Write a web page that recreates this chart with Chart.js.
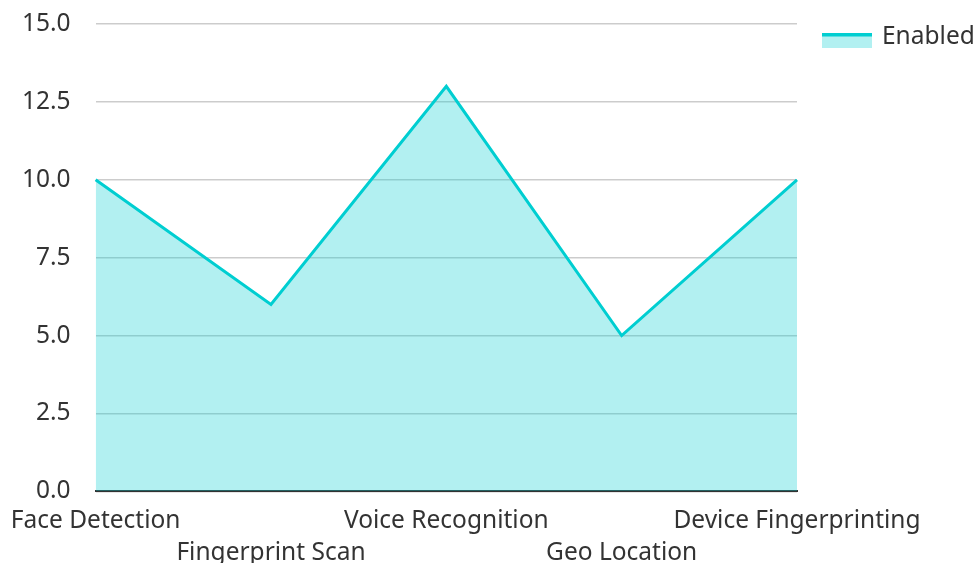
<!DOCTYPE html>
<html>
<head>
<meta charset="utf-8">
<script src="https://cdn.jsdelivr.net/npm/chart.js@4"></script>
<style>
  html, body { margin: 0; padding: 0; background: #fff; }
  #wrap { width: 978px; height: 563px; }
</style>
</head>
<body>
<div id="wrap"><canvas id="myChart"></canvas></div>
<script>
const categories = ['Face Detection', 'Fingerprint Scan', 'Voice Recognition', 'Geo Location', 'Device Fingerprinting'];
const enabledValues = [10, 6, 13, 5, 10];
const seriesName = 'Enabled';

const lineColor = '#00ced1';
const fillColor = 'rgba(0, 206, 209, 0.3)';
const fontSize = 24.5;
const fontFamily = '"Noto Sans", sans-serif';

// legend on the right: light box with the line along its top edge, then the name
const sideLegend = {
    id: 'sideLegend',
    afterDraw(chart) {
        const g = chart.ctx;
        const area = chart.chartArea;
        const x = area.right + 25;
        const y = area.top + 9;
        g.save();
        chart.data.datasets.forEach((ds, i) => {
            const top = y + i * 34;
            g.fillStyle = ds.backgroundColor;
            g.fillRect(x, top, 50, 15);
            g.fillStyle = ds.borderColor;
            g.fillRect(x, top, 50, 3.5);
            g.fillStyle = '#333';
            g.font = fontSize + 'px ' + fontFamily;
            g.textBaseline = 'alphabetic';
            g.textAlign = 'left';
            g.fillText(ds.label, x + 60, top + 10.5);
        });
        g.restore();
    }
};

Chart.defaults.font.family = fontFamily;
Chart.defaults.font.size = fontSize;
Chart.defaults.color = '#333';

const ctx = document.getElementById('myChart').getContext('2d');
const myChart = new Chart(ctx, {
    type: 'line',
    data: {
        labels: categories,
        datasets: [{
            label: seriesName,
            data: enabledValues,
            borderColor: lineColor,
            backgroundColor: fillColor,
            borderWidth: 3,
            fill: 'origin',
            tension: 0,
            pointRadius: 0,
            pointHoverRadius: 0
        }]
    },
    options: {
        responsive: true,
        maintainAspectRatio: false,
        animation: false,
        layout: { padding: { top: 0, right: 181, bottom: -12, left: 0 } },
        plugins: {
            tooltip: { enabled: false },
            legend: { display: false }
        },
        scales: {
            x: {
                offset: false,
                grid: { display: false },
                border: { display: true, color: '#333', width: 2 },
                ticks: {
                    autoSkip: false,
                    maxRotation: 0,
                    minRotation: 0,
                    padding: 6,
                    font: { size: fontSize, lineHeight: 1.3 },
                    callback: function (value, index) {
                        const label = this.getLabelForValue(value);
                        return index % 2 === 1 ? ['', label] : label;
                    }
                }
            },
            y: {
                min: 0,
                max: 15,
                grid: { color: 'rgba(0,0,0,0.2)', lineWidth: 1.5, drawTicks: false },
                border: { display: false },
                ticks: {
                    stepSize: 2.5,
                    padding: 25,
                    font: { size: fontSize },
                    callback: v => v.toFixed(1)
                },
                afterFit: scale => {
                    scale.paddingTop = 24;
                    scale.width -= 3;
                }
            }
        }
    },
    plugins: [sideLegend]
});
</script>
</body>
</html>
